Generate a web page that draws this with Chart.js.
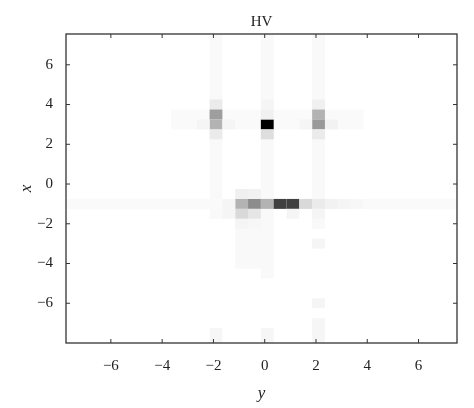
<!DOCTYPE html>
<html><head><meta charset="utf-8">
<script src="https://cdn.jsdelivr.net/npm/chart.js@4"></script>
<style>html,body{margin:0;padding:0;background:#fff}#c{display:block}</style>
</head><body>
<div style="width:474px;height:408px"><canvas id="c"></canvas></div>
<script>
const title = "HV";
const xTicks = [-6,-4,-2,0,2,4,6];
const yTicks = [-6,-4,-2,0,2,4,6];
// faint background bands: [yFrom, yTo, xFrom, xTo, intensity]  (horizontal axis = y, vertical axis = x)
const bandH0 = [-2.15,-1.65,-1.75,7.55,0.025];
const bandH1 = [-0.15,0.35,-4.75,7.55,0.025];
const bandH2 = [1.85,2.35,-2.25,7.55,0.025];
const bandH3 = [-3.65,3.85,2.75,3.75,0.02];
const bandH4 = [-7.75,7.5,-1.25,-0.75,0.02];
const bandH5 = [-1.15,-0.15,-4.25,-0.25,0.025];
const bandH6 = [-2.15,-1.65,-8,-7.25,0.035];
const bandH7 = [-0.15,0.35,-8,-7.25,0.035];
const bandH8 = [1.85,2.35,-8,-6.75,0.035];
const bands = [bandH0,bandH1,bandH2,bandH3,bandH4,bandH5,bandH6,bandH7,bandH8];
// individual cells: centres and intensity
const cellY = [-1.9,-1.9,-1.9,-1.9,-2.4,-1.4, 0.1,0.1,0.1,0.1, 2.1,2.1,2.1,2.1,2.1,2.1,2.6,1.6,
               -0.9,-0.4,0.1,0.6,1.1,1.6,2.1,2.6,3.1,3.6,-1.4,
               -0.9,-0.4,-0.9,-0.4,-0.9,-0.4,1.1,-1.4,2.1];
const cellX = [4,3.5,3,2.5,3,3, 3,2.5,3.5,4, 4,3.5,3,2.5,-3,-6,3,3,
               -1,-1,-1,-1,-1,-1,-1,-1,-1,-1,-1,
               -0.5,-0.5,-1.5,-1.5,-2,-2,-1.5,-1.5,-1.5];
const cellV = [0.08,0.38,0.3,0.08,0.04,0.04, 1.0,0.13,0.06,0.04, 0.06,0.3,0.4,0.08,0.04,0.04,0.05,0.04,
               0.3,0.45,0.3,0.75,0.75,0.15,0.08,0.05,0.04,0.03,0.04,
               0.06,0.05,0.15,0.1,0.04,0.03,0.04,0.04,0.04];
const cellW = 0.5, cellH = 0.5;

function gray(v){const g=Math.round(255*(1-v));return `rgb(${g},${g},${g})`;}

const heat = {
  id:'heat',
  beforeDatasetsDraw(ch){
    const {ctx,chartArea:a,scales:{x,y}}=ch;
    ctx.save();
    ctx.beginPath();ctx.rect(a.left,a.top,a.right-a.left,a.bottom-a.top);ctx.clip();
    for(const b of bands){
      const x0=x.getPixelForValue(b[0]),x1=x.getPixelForValue(b[1]);
      const y0=y.getPixelForValue(b[3]),y1=y.getPixelForValue(b[2]);
      ctx.fillStyle=gray(b[4]);ctx.fillRect(x0,y0,x1-x0,y1-y0);
    }
    for(let i=0;i<cellY.length;i++){
      const x0=x.getPixelForValue(cellY[i]-cellW/2),x1=x.getPixelForValue(cellY[i]+cellW/2);
      const y0=y.getPixelForValue(cellX[i]+cellH/2),y1=y.getPixelForValue(cellX[i]-cellH/2);
      ctx.fillStyle=gray(cellV[i]);ctx.fillRect(x0,y0,x1-x0,y1-y0);
    }
    ctx.restore();
  },
  afterDraw(ch){
    const {ctx,chartArea:a,scales:{x,y}}=ch;
    ctx.save();
    ctx.strokeStyle='#333';ctx.lineWidth=1.3;
    ctx.strokeRect(a.left,a.top,a.right-a.left,a.bottom-a.top);
    ctx.lineWidth=1;
    for(const t of xTicks){const p=x.getPixelForValue(t);
      ctx.beginPath();ctx.moveTo(p,a.bottom);ctx.lineTo(p,a.bottom-4);ctx.moveTo(p,a.top);ctx.lineTo(p,a.top+4);ctx.stroke();}
    for(const t of yTicks){const p=y.getPixelForValue(t);
      ctx.beginPath();ctx.moveTo(a.left,p);ctx.lineTo(a.left+4,p);ctx.moveTo(a.right,p);ctx.lineTo(a.right-4,p);ctx.stroke();}
    ctx.fillStyle='#222';ctx.font='15px "Liberation Serif"';ctx.textAlign='center';ctx.textBaseline='bottom';
    ctx.fillText(title,(a.left+a.right)/2,a.top-4);
    ctx.restore();
  }
};
const lbl = v => (v<0?'\u2212'+(-v):String(v));
new Chart(document.getElementById('c'),{
  type:'scatter',
  data:{datasets:[{data:[],pointRadius:0}]},
  plugins:[heat],
  options:{
    responsive:true,maintainAspectRatio:false,animation:false,
    layout:{padding:{top:34,right:17,left:0,bottom:0}},
    plugins:{legend:{display:false},tooltip:{enabled:false}},
    scales:{
      x:{min:-7.75,max:7.5,
        afterBuildTicks(s){s.ticks=xTicks.map(v=>({value:v}));},
        afterFit(s){s.height=65;},
        grid:{display:false},border:{display:false},
        ticks:{callback:lbl,color:'#222',padding:6,font:{family:'Liberation Serif',size:15}},
        title:{display:true,text:'y',color:'#222',padding:{top:4},font:{family:'Liberation Serif',size:17,style:'italic'}}},
      y:{min:-8,max:7.55,
        afterBuildTicks(s){s.ticks=yTicks.map(v=>({value:v}));},
        afterFit(s){s.width=66;},
        grid:{display:false},border:{display:false},
        ticks:{callback:lbl,color:'#222',padding:5,font:{family:'Liberation Serif',size:15}},
        title:{display:true,text:'x',color:'#222',padding:{bottom:0,top:16},font:{family:'Liberation Serif',size:17,style:'italic'}}}
    }
  }
});
</script>
</body></html>
